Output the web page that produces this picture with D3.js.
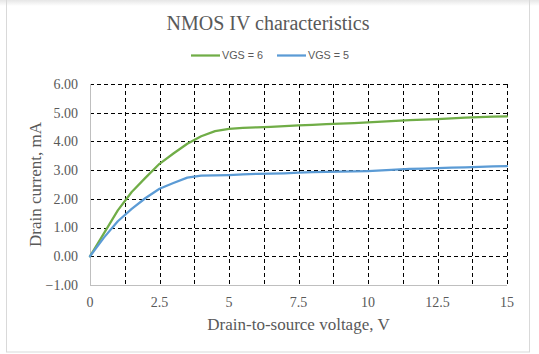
<!DOCTYPE html>
<html>
<head>
<meta charset="utf-8">
<script src="https://cdn.jsdelivr.net/npm/d3@7"></script>
<style>
  html, body { margin: 0; padding: 0; background: #fff; }
  svg { display: block; }
  .title { font-family: "Liberation Serif", "Times New Roman", serif; font-size: 20px; fill: #595959; text-anchor: middle; }
  .axis-title { font-family: "Liberation Serif", "Times New Roman", serif; font-size: 17px; fill: #595959; text-anchor: middle; }
  .tick-label { font-family: "Liberation Serif", "Times New Roman", serif; font-size: 14px; fill: #595959; }
  .legend-label { font-family: "Liberation Sans", Arial, sans-serif; font-size: 11px; fill: #595959; }
</style>
</head>
<body>
<svg width="539" height="354"></svg>
<script>
// Data
const voltage = [0, 0.5, 1, 1.5, 2, 2.5, 3, 3.5, 4, 4.5, 5, 5.5, 6, 6.5, 7, 7.5, 8, 8.5, 9, 9.5,
  10, 10.5, 11, 11.5, 12, 12.5, 13, 13.5, 14, 14.5, 15]

const vgs6 = [0, 0.80, 1.60, 2.24, 2.74, 3.22, 3.58, 3.92, 4.18, 4.36, 4.44, 4.47, 4.49, 4.51, 4.53, 4.56,
  4.58, 4.60, 4.62, 4.64, 4.66, 4.69, 4.72, 4.74, 4.76, 4.78, 4.80, 4.83, 4.85, 4.86, 4.87]

const vgs5 = [0, 0.65, 1.22, 1.65, 2.03, 2.35, 2.55, 2.74, 2.81, 2.82, 2.83, 2.85, 2.87, 2.88, 2.89, 2.91,
  2.93, 2.94, 2.95, 2.96, 2.97, 2.99, 3.02, 3.04, 3.05, 3.07, 3.09, 3.10, 3.11, 3.13, 3.14]

const seriesNames = ["VGS = 6", "VGS = 5"]
const seriesColors = ["#70ad47", "#5b9bd5"]

const xTicks = [0, 2.5, 5, 7.5, 10, 12.5, 15]
const xGrid = [1.25, 2.5, 3.75, 5, 6.25, 7.5, 8.75, 10, 11.25, 12.5, 13.75, 15]
const yTicks = [-1, 0, 1, 2, 3, 4, 5, 6]

let margin = { left: 90, right: 32, top: 84, bottom: 69 }
let W = 539, H = 354
let w = W - margin.left - margin.right
let h = H - margin.top - margin.bottom

let svg = d3.select('svg')

// Chart frame
let grad = svg.append('defs').append('linearGradient')
  .attr('id', 'topShade').attr('x1', 0).attr('x2', 0).attr('y1', 0).attr('y2', 1)
grad.append('stop').attr('offset', 0).attr('stop-color', '#e6e6e6')
grad.append('stop').attr('offset', 1).attr('stop-color', '#ffffff')
svg.append('rect')
  .attr('x', 0).attr('y', 0).attr('width', W).attr('height', 6)
  .attr('fill', 'url(#topShade)')
svg.append('rect')
  .attr('x', 6.5).attr('y', -1).attr('width', 523).attr('height', 353)
  .attr('fill', 'none')
  .attr('stroke', '#d9d9d9')

let x = d3.scaleLinear().domain([0, 15]).range([margin.left, margin.left + w])
let y = d3.scaleLinear().domain([-1, 6]).range([margin.top + h, margin.top])

// Gridlines
svg.append('g')
  .selectAll('line')
  .data(yTicks.filter(d => d > -1))
  .enter()
  .append('line')
  .attr('x1', x(0)).attr('x2', x(15))
  .attr('y1', d => Math.round(y(d)) + 0.5).attr('y2', d => Math.round(y(d)) + 0.5)
  .attr('stroke', '#000')
  .attr('stroke-dasharray', '4,3')

svg.append('g')
  .selectAll('line')
  .data(xGrid)
  .enter()
  .append('line')
  .attr('x1', d => Math.round(x(d)) + 0.5).attr('x2', d => Math.round(x(d)) + 0.5)
  .attr('y1', y(6)).attr('y2', y(-1))
  .attr('stroke', '#000')
  .attr('stroke-dasharray', '4,3')

// Axes lines
svg.append('line')
  .attr('x1', Math.round(x(0)) + 0.5).attr('x2', Math.round(x(0)) + 0.5)
  .attr('y1', y(6)).attr('y2', y(-1))
  .attr('stroke', '#bfbfbf')
svg.append('line')
  .attr('x1', x(0)).attr('x2', x(15))
  .attr('y1', Math.round(y(-1)) + 0.5).attr('y2', Math.round(y(-1)) + 0.5)
  .attr('stroke', '#bfbfbf')

// Tick labels
svg.append('g')
  .selectAll('text')
  .data(yTicks)
  .enter()
  .append('text')
  .attr('class', 'tick-label')
  .attr('x', 78)
  .attr('y', d => y(d))
  .attr('dy', '0.35em')
  .attr('text-anchor', 'end')
  .text(d => d3.format('.2f')(d))

svg.append('g')
  .selectAll('text')
  .data(xTicks)
  .enter()
  .append('text')
  .attr('class', 'tick-label')
  .attr('x', d => x(d))
  .attr('y', 307)
  .attr('text-anchor', 'middle')
  .text(d => d)

// Series
let line = d3.line()
  .x((d, i) => x(voltage[i]))
  .y(d => y(d))

;[vgs6, vgs5].forEach((s, i) => {
  svg.append('path')
    .datum(s)
    .attr('d', line)
    .attr('fill', 'none')
    .attr('stroke', seriesColors[i])
    .attr('stroke-width', 2.25)
    .attr('stroke-linejoin', 'round')
    .attr('stroke-linecap', 'round')
})

// Chart Title
svg.append('text')
  .attr('class', 'title')
  .attr('x', 268)
  .attr('y', 30)
  .text('NMOS IV characteristics')

// Legend
let legendX = [191, 277]
seriesNames.forEach((name, i) => {
  let g = svg.append('g').attr('transform', `translate(${legendX[i]},55.5)`)
  g.append('line')
    .attr('x1', 0).attr('x2', 29)
    .attr('stroke', seriesColors[i])
    .attr('stroke-width', 2.25)
  g.append('text')
    .attr('class', 'legend-label')
    .attr('x', 31)
    .attr('y', 3.8)
    .attr('textLength', 41)
    .attr('lengthAdjust', 'spacingAndGlyphs')
    .text(name)
})

// Axis titles
svg.append('text')
  .attr('class', 'axis-title')
  .attr('x', x(7.5))
  .attr('y', 330)
  .text('Drain-to-source voltage, V')

svg.append('text')
  .attr('class', 'axis-title')
  .attr('transform', `translate(41,${y(2.5)}) rotate(-90)`)
  .text('Drain current, mA')
</script>
</body>
</html>
